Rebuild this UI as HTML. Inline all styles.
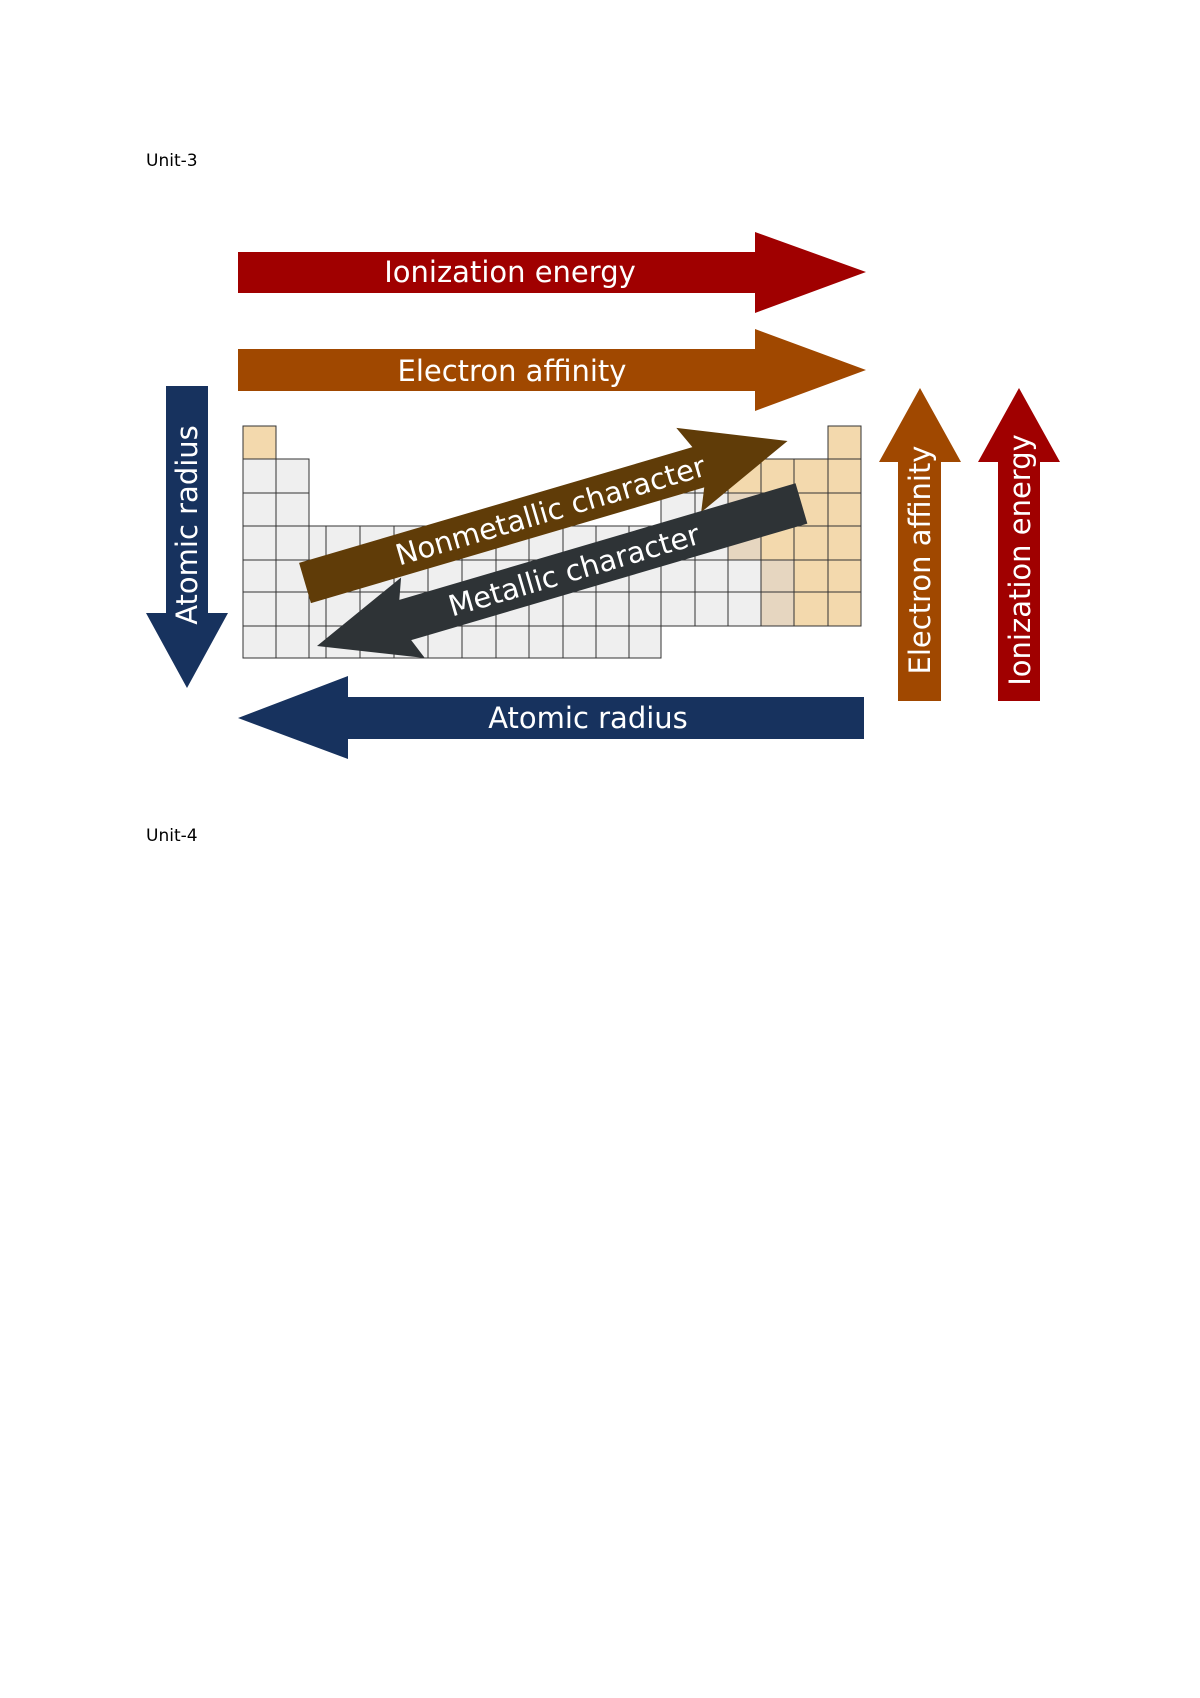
<!DOCTYPE html>
<html><head><meta charset="utf-8"><style>
html,body{margin:0;padding:0;background:#fff;width:1200px;height:1698px;overflow:hidden}
svg{display:block}
text{font-family:"DejaVu Sans","Liberation Sans",sans-serif}
</style></head><body>
<svg width="1200" height="1698" viewBox="0 0 1200 1698" xmlns="http://www.w3.org/2000/svg">
<text x="146" y="166" font-size="17" fill="#000">Unit-3</text>
<text x="146" y="841" font-size="17" fill="#000">Unit-4</text>

<g stroke="#333" stroke-width="1">
  <rect x="243" y="426" width="33" height="33" fill="#f3d9ad"/>
  <rect x="828" y="426" width="33" height="33" fill="#f3d9ad"/>
  <g fill="#efefef">
    <rect x="243" y="459" width="33" height="34"/><rect x="276" y="459" width="33" height="34"/>
    <rect x="243" y="493" width="33" height="33"/><rect x="276" y="493" width="33" height="33"/>
  </g>
  <g fill="#f3d9ad">
    <rect x="661" y="459" width="34" height="34" fill="#efefef"/><rect x="695" y="459" width="33" height="34" fill="#efefef"/>
    <rect x="728" y="459" width="33" height="34"/><rect x="761" y="459" width="33" height="34"/><rect x="794" y="459" width="34" height="34"/><rect x="828" y="459" width="33" height="34"/>
    <rect x="661" y="493" width="34" height="33" fill="#efefef"/><rect x="695" y="493" width="33" height="33" fill="#efefef"/>
    <rect x="728" y="493" width="33" height="33" fill="#e6d6c0"/><rect x="761" y="493" width="33" height="33"/><rect x="794" y="493" width="34" height="33"/><rect x="828" y="493" width="33" height="33"/>
  </g>
  <g fill="#efefef">
    <rect x="243" y="526" width="33" height="34"/><rect x="276" y="526" width="33" height="34"/><rect x="309" y="526" width="17" height="34"/>
    <rect x="326" y="526" width="34" height="34"/><rect x="360" y="526" width="34" height="34"/><rect x="394" y="526" width="34" height="34"/><rect x="428" y="526" width="34" height="34"/><rect x="462" y="526" width="34" height="34"/><rect x="496" y="526" width="33" height="34"/><rect x="529" y="526" width="34" height="34"/><rect x="563" y="526" width="33" height="34"/><rect x="596" y="526" width="33" height="34"/><rect x="629" y="526" width="32" height="34"/>
    <rect x="661" y="526" width="34" height="34"/><rect x="695" y="526" width="33" height="34"/><rect x="728" y="526" width="33" height="34" fill="#e6d6c0"/><rect x="761" y="526" width="33" height="34" fill="#f3d9ad"/><rect x="794" y="526" width="34" height="34" fill="#f3d9ad"/><rect x="828" y="526" width="33" height="34" fill="#f3d9ad"/>

    <rect x="243" y="560" width="33" height="32"/><rect x="276" y="560" width="33" height="32"/><rect x="309" y="560" width="17" height="32"/>
    <rect x="326" y="560" width="34" height="32"/><rect x="360" y="560" width="34" height="32"/><rect x="394" y="560" width="34" height="32"/><rect x="428" y="560" width="34" height="32"/><rect x="462" y="560" width="34" height="32"/><rect x="496" y="560" width="33" height="32"/><rect x="529" y="560" width="34" height="32"/><rect x="563" y="560" width="33" height="32"/><rect x="596" y="560" width="33" height="32"/><rect x="629" y="560" width="32" height="32"/>
    <rect x="661" y="560" width="34" height="32"/><rect x="695" y="560" width="33" height="32"/><rect x="728" y="560" width="33" height="32"/><rect x="761" y="560" width="33" height="32" fill="#e6d6c0"/><rect x="794" y="560" width="34" height="32" fill="#f3d9ad"/><rect x="828" y="560" width="33" height="32" fill="#f3d9ad"/>

    <rect x="243" y="592" width="33" height="34"/><rect x="276" y="592" width="33" height="34"/><rect x="309" y="592" width="17" height="34"/>
    <rect x="326" y="592" width="34" height="34"/><rect x="360" y="592" width="34" height="34"/><rect x="394" y="592" width="34" height="34"/><rect x="428" y="592" width="34" height="34"/><rect x="462" y="592" width="34" height="34"/><rect x="496" y="592" width="33" height="34"/><rect x="529" y="592" width="34" height="34"/><rect x="563" y="592" width="33" height="34"/><rect x="596" y="592" width="33" height="34"/><rect x="629" y="592" width="32" height="34"/>
    <rect x="661" y="592" width="34" height="34"/><rect x="695" y="592" width="33" height="34"/><rect x="728" y="592" width="33" height="34"/><rect x="761" y="592" width="33" height="34" fill="#e6d6c0"/><rect x="794" y="592" width="34" height="34" fill="#f3d9ad"/><rect x="828" y="592" width="33" height="34" fill="#f3d9ad"/>

    <rect x="243" y="626" width="33" height="32"/><rect x="276" y="626" width="33" height="32"/><rect x="309" y="626" width="17" height="32"/>
    <rect x="326" y="626" width="34" height="32"/><rect x="360" y="626" width="34" height="32"/><rect x="394" y="626" width="34" height="32"/><rect x="428" y="626" width="34" height="32"/><rect x="462" y="626" width="34" height="32"/><rect x="496" y="626" width="33" height="32"/><rect x="529" y="626" width="34" height="32"/><rect x="563" y="626" width="33" height="32"/><rect x="596" y="626" width="33" height="32"/><rect x="629" y="626" width="32" height="32"/>
  </g>
</g>

<polygon points="238,252 755,252 755,232 866,272 755,313 755,293 238,293" fill="#a00000"/>
<text x="510" y="282" font-size="29" fill="#fff" text-anchor="middle">Ionization energy</text>

<polygon points="238,349 755,349 755,329 866,370 755,411 755,391 238,391" fill="#a04800"/>
<text x="512" y="381" font-size="29" fill="#fff" text-anchor="middle">Electron affinity</text>

<polygon points="166,386 208,386 208,613 228,613 187,688 146,613 166,613" fill="#17325e"/>
<text transform="translate(197,525) rotate(-90)" font-size="29" fill="#fff" text-anchor="middle">Atomic radius</text>

<polygon points="864,697 864,739 348,739 348,759 238,718 348,676 348,697" fill="#17325e"/>
<text x="588" y="728" font-size="29" fill="#fff" text-anchor="middle">Atomic radius</text>

<polygon points="898,701 941,701 941,462 961,462 920,388 879,462 898,462" fill="#a04800"/>
<text transform="translate(930,560) rotate(-90)" font-size="29" fill="#fff" text-anchor="middle">Electron affinity</text>

<polygon points="998,701 1040,701 1040,462 1060,462 1019,388 978,462 998,462" fill="#a00000"/>
<text transform="translate(1030,560) rotate(-90)" font-size="29" fill="#fff" text-anchor="middle">Ionization energy</text>

<g transform="translate(305,583) rotate(-16.4)">
  <polygon points="0,-21 410,-21 400,-44 503,0 400,44 410,21 0,21" fill="#603c08"/>
  <text x="256" y="10" font-size="29" fill="#fff" text-anchor="middle">Nonmetallic character</text>
</g>

<g transform="translate(317,646) rotate(-16.4)">
  <polygon points="0,0 100,-42 92,-21 505,-21 505,21 92,21 100,42" fill="#2e3336"/>
  <text x="268" y="10" font-size="29" fill="#fff" text-anchor="middle">Metallic character</text>
</g>
</svg>
</body></html>
